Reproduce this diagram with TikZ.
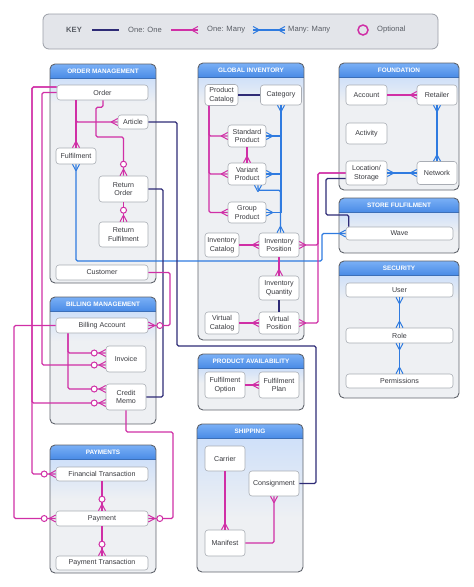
\documentclass[tikz,border=0pt]{standalone}
\usepackage{fontspec}
\setmainfont{Liberation Sans}
\usetikzlibrary{calc,decorations.markings}
\definecolor{navy}{HTML}{2E2B76}
\definecolor{mag}{HTML}{D02FA6}
\definecolor{cblue}{HTML}{2F7BE0}
\definecolor{boxborder}{HTML}{5F636B}
\definecolor{bodygray}{HTML}{EEF0F3}
\definecolor{bodyblue}{HTML}{CFE0F9}
\definecolor{hdrtop}{HTML}{7AB0F6}
\definecolor{hdrbot}{HTML}{4A8BE6}
\definecolor{hdrline}{HTML}{3C6FB8}
\definecolor{entborder}{HTML}{A9ADB4}
\definecolor{txt}{HTML}{3A3B40}
\definecolor{keyfill}{HTML}{E3E5EA}
\definecolor{keyborder}{HTML}{9A9EA6}
\definecolor{keytxt}{HTML}{5A5E66}

\tikzset{
  hdr/.style={text=white, font=\bfseries\fontsize{6.4}{7}\selectfont, inner sep=0pt},
  ent/.style={draw=entborder, fill=white, rounded corners=3pt, line width=0.6pt,
    font=\fontsize{7.1}{8.6}\selectfont, text=txt, align=center, inner sep=0pt},
  keytext/.style={font=\fontsize{7.6}{9}\selectfont, text=keytxt, inner sep=0pt, anchor=west},
  conn/.style={line width=1.15pt, rounded corners=1.5pt},
  ooline/.style={conn, color=navy},
  omline/.style={conn, color=mag},
  mmline/.style={conn, color=cblue},
  crowE/.style={postaction={decorate,decoration={markings,mark=at position 1 with
    {\draw[line width=1pt,sharp corners] (-6.5pt,0pt)--(0pt,3.5pt) (-6.5pt,0pt)--(0pt,-3.5pt);}}}},
  crowS/.style={postaction={decorate,decoration={markings,mark=at position 0 with
    {\draw[line width=1pt,sharp corners] (6.5pt,0pt)--(0pt,3.5pt) (6.5pt,0pt)--(0pt,-3.5pt);}}}},
  ocrowE/.style={crowE, postaction={decorate,decoration={markings,mark=at position 1 with
    {\draw[line width=1pt,fill=white] (-11.5pt,0pt) circle (3pt);}}}},
}

\newcommand{\grpbox}[7]{%
  \begin{scope}
    \clip[rounded corners=5pt] (#2,#3) rectangle (#4,#5);
    \fill[bodygray] (#2,#3) rectangle (#4,#5);
    \shade[top color=bodyblue, bottom color=bodygray] (#2,#3+14) rectangle (#4,#3+14+#7);
    \shade[top color=hdrtop, bottom color=hdrbot] (#2,#3) rectangle (#4,#3+14);
    \draw[hdrline, line width=0.6pt] (#2,#3+14) -- (#4,#3+14);
  \end{scope}
  \draw[boxborder, line width=0.9pt, rounded corners=5pt] (#2,#3) rectangle (#4,#5);
  \node[hdr] (#1) at ({(#2+#4)/2},#3+7.3) {#6};
}
\newcommand{\ent}[6]{%
  \node[ent, minimum width=#4pt, minimum height=#5pt] (#1) at (#2,#3) {#6};
}

\begin{document}
\begin{tikzpicture}[x=1pt,y=-1pt]
\useasboundingbox (0,0) rectangle (474,587);

% ---------- KEY ----------
\draw[keyborder, fill=keyfill, line width=0.8pt, rounded corners=6pt] (43,14) rectangle (438,49);
\node[keytext, font=\bfseries\fontsize{7.6}{9}\selectfont] (keyk) at (66,30) {KEY};
\coordinate (k1a) at (92,30); \coordinate (k1b) at (119,30);
\draw[ooline] (k1a) -- (k1b);
\node[keytext] (keyoo) at (128,30) {One: One};
\coordinate (k2a) at (171,30); \coordinate (k2b) at (198,30);
\draw[omline, crowE] (k2a) -- (k2b);
\node[keytext] (keyom) at (207,30) {One: Many};
\coordinate (k3a) at (253,30); \coordinate (k3b) at (285,30);
\draw[mmline, crowS, crowE] (k3a) -- (k3b);
\node[keytext] (keymm) at (288,30) {Many: Many};
\node[draw=mag, line width=1.5pt, circle, minimum size=10pt, inner sep=0pt] (keyopt) at (363,30) {};
\node[keytext] (keyoptt) at (377,30) {Optional};

% ---------- GROUP BOXES ----------
\grpbox{gOM}{50}{64}{156}{283}{ORDER MANAGEMENT}{25}
\grpbox{gBM}{50}{297}{156}{424}{BILLING MANAGEMENT}{30}
\grpbox{gPY}{50}{445}{156}{573}{PAYMENTS}{40}
\grpbox{gGI}{198}{63}{304}{340}{GLOBAL INVENTORY}{25}
\grpbox{gPA}{198}{354}{304}{410}{PRODUCT AVAILABILITY}{15}
\grpbox{gSH}{197}{424}{303}{572}{SHIPPING}{80}
\grpbox{gFO}{339}{63}{459}{190}{FOUNDATION}{25}
\grpbox{gSF}{339}{198}{459}{253}{STORE FULFILMENT}{20}
\grpbox{gSE}{339}{261}{459}{398}{SECURITY}{25}

% ---------- ENTITIES ----------
\ent{order}{102.5}{92.5}{91}{15}{Order}
\ent{article}{133}{122}{30}{14}{Article}
\ent{fulf}{76}{156}{40}{16}{Fulfilment}
\ent{retorder}{123.5}{189}{49}{26}{Return\\Order}
\ent{retfulf}{123.5}{234.5}{49}{25}{Return\\Fulfilment}
\ent{customer}{102}{272.5}{92}{15}{Customer}

\ent{billacct}{102}{325.5}{92}{15}{Billing Account}
\ent{invoice}{126}{359}{40}{26}{Invoice}
\ent{credit}{126}{397}{40}{26}{Credit\\Memo}

\ent{fintrans}{102}{474}{92}{14}{Financial Transaction}
\ent{payment}{102}{518.5}{92}{15}{Payment}
\ent{paytrans}{102}{563}{92}{14}{Payment Transaction}

\ent{prodcat}{221.5}{95}{33}{21}{Product\\Catalog}
\ent{category}{281}{95}{41}{20}{Category}
\ent{stdprod}{247}{136}{38}{22}{Standard\\Product}
\ent{varprod}{247}{174}{38}{22}{Variant\\Product}
\ent{grpprod}{247}{212.5}{38}{21}{Group\\Product}
\ent{invcat}{222}{245}{34}{24}{Inventory\\Catalog}
\ent{invpos}{279}{245}{40}{24}{Inventory\\Position}
\ent{invqty}{279}{288}{40}{24}{Inventory\\Quantity}
\ent{vcat}{222}{323}{34}{22}{Virtual\\Catalog}
\ent{vpos}{279}{323}{40}{22}{Virtual\\Position}

\ent{fopt}{225}{385}{40}{26}{Fulfilment\\Option}
\ent{fplan}{279}{385}{40}{26}{Fulfilment\\Plan}

\ent{carrier}{225}{458.5}{40}{25}{Carrier}
\ent{consign}{274}{483.5}{50}{25}{Consignment}
\ent{manifest}{225}{543}{40}{26}{Manifest}

\ent{account}{366.5}{95}{41}{20}{Account}
\ent{retailer}{437}{95}{40}{20}{Retailer}
\ent{activity}{366.5}{133.5}{41}{21}{Activity}
\ent{locstor}{366.5}{173}{41}{24}{Location/\\Storage}
\ent{network}{437}{173}{40}{23}{Network}

\ent{wave}{399.5}{233.5}{107}{13}{Wave}

\ent{user}{399.5}{290}{107}{14}{User}
\ent{role}{399.5}{335.5}{107}{15}{Role}
\ent{perms}{399.5}{381}{107}{14}{Permissions}

% ---------- CONNECTORS ----------
% Order management
\draw[omline, crowE] (fulf.north |- order.south) -- (fulf.north);
\draw[omline, crowE] (fulf.north |- order.south) |- (article.west);
\draw[omline, ocrowE] ($(order.south)+(0.5,0)$) -- ++(0,7) -- ++(-7,0) -- (96,137) -| (retorder.north);
\draw[omline, ocrowE] (retorder.south) -- (retfulf.north);
\draw[mmline, crowS, crowE] (fulf.south) -- (fulf.south |- 0,261) -- (322,261) |- (wave.west);
\draw[ooline] (article.east) -- (article.east -| 177,0) -- (177,346) -- (316,346) |- (consign.east);
\draw[ooline] (retorder.east) -- (retorder.east -| 163,0) |- (credit.east);
\draw[omline, ocrowE] (customer.east) -- (customer.east -| 170,0) |- (billacct.east);

% Order -> billing / payments
\draw[omline, ocrowE] (order.west |- 0,87) -- (32,87) |- (fintrans.west);
\draw[omline, ocrowE] (order.west |- 0,87) -- (32,87) |- ($(credit.west)+(0,6)$);
\draw[omline, ocrowE] (order.west |- 0,92.5) -- (42,92.5) |- ($(invoice.west)+(0,6)$);

% Billing
\draw[omline, ocrowE] (billacct.south -| 68,0) |- ($(invoice.west)+(0,-6)$);
\draw[omline, ocrowE] (billacct.south -| 68,0) |- ($(credit.west)+(0,-8)$);
\draw[omline, ocrowE] (billacct.west) -- (billacct.west -| 14,0) |- (payment.west);
\draw[omline, ocrowE] (credit.south) -- (credit.south |- 0,432) -- (173,432) |- (payment.east);

% Payments
\draw[omline, ocrowE] (fintrans.south) -- (payment.north);
\draw[omline, ocrowE] (payment.south) -- (paytrans.north);

% Global inventory
\draw[ooline] (prodcat.east) -- (category.west);
\draw[omline, crowE] (prodcat.south -| 209,0) |- (stdprod.west);
\draw[omline, crowE] (prodcat.south -| 209,0) |- (varprod.west);
\draw[omline, crowE] (prodcat.south -| 209,0) |- (grpprod.west);
\draw[mmline, crowS] (category.south) -- (category.south |- grpprod.east);
\draw[mmline, crowE] (category.south |- stdprod.east) -- (stdprod.east);
\draw[mmline, crowE] (category.south |- varprod.east) -- (varprod.east);
\draw[mmline, crowE] (category.south |- grpprod.east) -- (grpprod.east);
\draw[mmline, crowS, crowE] ($(varprod.south)+(11,0)$) -- ($(varprod.south)+(11,5)$) -| ($(invpos.north)+(1.5,0)$);
\draw[omline, crowE] (stdprod.south) -- (varprod.north);
\draw[omline, crowE] (invcat.east) -- (invpos.west);
\draw[omline, crowE] (invpos.south) -- (invqty.north);
\draw[ooline] (invqty.south) -- (vpos.north);
\draw[omline, crowE] (vcat.east) -- (vpos.west);
\draw[omline, crowE] (locstor.west) -- (locstor.west -| 318,0) |- (invpos.east);
\draw[omline, crowE] (locstor.west) -- (locstor.west -| 318,0) |- (vpos.east);
\draw[ooline] ($(locstor.west)+(0,5.5)$) -- (326,178.5) -- (326,215) -| ($(wave.north west)+(3,0)$);

% Foundation
\draw[omline, crowE] (account.east) -- (retailer.west);
\draw[mmline, crowS, crowE] (retailer.south) -- (network.north);
\draw[mmline, crowS, crowE] (locstor.east) -- (network.west);

% Security
\draw[mmline, crowS, crowE] (user.south) -- (role.north);
\draw[mmline, crowS, crowE] (role.south) -- (perms.north);

% Product availability
\draw[omline, crowE] (fopt.east) -- (fplan.west);

% Shipping
\draw[omline, crowE] (carrier.south) -- (manifest.north);
\draw[omline, crowE] (manifest.east) -| (consign.south);
\end{tikzpicture}
\end{document}
